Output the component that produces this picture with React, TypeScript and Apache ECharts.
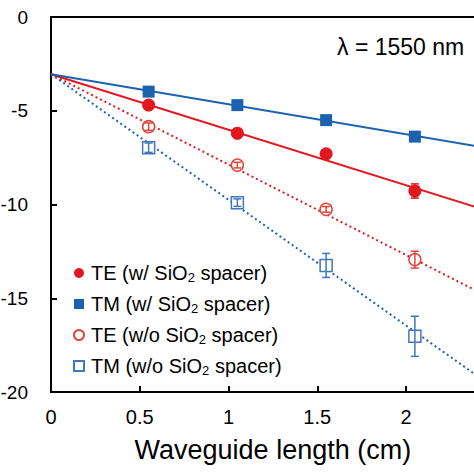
import React, { useEffect, useRef } from "react";
import * as echarts from "echarts";

// Waveguide lengths (cm)
const lengths = [0.55, 1.05, 1.55, 2.05];

// Measured loss values (dB)
const teWith = [-4.7, -6.2, -7.3, -9.28];
const tmWith = [-3.98, -4.7, -5.5, -6.38];
const teWithout = [-5.85, -7.9, -10.26, -12.94];
const tmWithout = [-6.97, -9.9, -13.25, -17.03];

// Error bar half-widths (dB)
const teWithErr = [0.1, 0.1, 0.15, 0.38];
const tmWithErr = [0.1, 0.1, 0.1, 0.12];
const teWithoutErr = [0.2, 0.15, 0.15, 0.45];
const tmWithoutErr = [0.25, 0.2, 0.64, 1.07];

// Linear fit end points
const fitX = [0, 2.5];
const teWithFit = [-3.05, -10.45];
const tmWithFit = [-3.05, -7.05];
const teWithoutFit = [-3.05, -15.1];
const tmWithoutFit = [-3.05, -19.8];

const seriesNames = [
  "TE (w/ SiO2 spacer)",
  "TM (w/ SiO2 spacer)",
  "TE (w/o SiO2 spacer)",
  "TM (w/o SiO2 spacer)",
];

const RED = "#e3171f";
const BLUE = "#1c62b0";
const RED_OPEN = "#e0463b";
const BLUE_OPEN = "#3f78c0";
const FONT = "'Liberation Sans', Arial, sans-serif";

const pairs = (xs: number[], ys: number[]) => xs.map((x, i) => [x, ys[i]]);
const triples = (xs: number[], ys: number[], es: number[]) =>
  xs.map((x, i) => [x, ys[i], es[i]]);

function errorSeries(data: number[][], color: string, z: number) {
  return {
    type: "custom",
    z,
    silent: true,
    data,
    encode: { x: 0, y: 1 },
    renderItem: (_params: any, api: any) => {
      const x = api.value(0);
      const y = api.value(1);
      const e = api.value(2);
      const top = api.coord([x, y + e]);
      const bot = api.coord([x, y - e]);
      const cw = 4;
      const style = { stroke: color, lineWidth: 1.5 };
      return {
        type: "group",
        children: [
          { type: "line", shape: { x1: top[0], y1: top[1], x2: bot[0], y2: bot[1] }, style },
          { type: "line", shape: { x1: top[0] - cw, y1: top[1], x2: top[0] + cw, y2: top[1] }, style },
          { type: "line", shape: { x1: bot[0] - cw, y1: bot[1], x2: bot[0] + cw, y2: bot[1] }, style },
        ],
      };
    },
  };
}

function fitSeries(ys: number[], color: string, dotted: boolean) {
  return {
    type: "line",
    data: pairs(fitX, ys),
    symbol: "none",
    silent: true,
    z: 1,
    lineStyle: { color, width: 2, type: dotted ? [2, 3] : "solid" },
  };
}

export default function App() {
  const ref = useRef<HTMLDivElement>(null);
  useEffect(() => {
    if (!ref.current) return;
    const chart = echarts.init(ref.current, null, { renderer: "svg" });
    const sub = (name: string) => {
      const [a, b] = name.split("SiO2");
      return `{f|${a}SiO}{s|2}{a|${b}}`;
    };
    chart.setOption({
      animation: false,
      backgroundColor: "#ffffff",
      textStyle: { fontFamily: FONT },
      grid: {
        left: 51,
        top: 17,
        width: 443.75,
        height: 375,
        containLabel: false,
        outerBoundsMode: "none",
        show: true,
        borderColor: "#000",
        borderWidth: 2,
        backgroundColor: "transparent",
      },
      xAxis: {
        type: "value",
        min: 0,
        max: 2.5,
        interval: 0.5,
        name: "Waveguide length (cm)",
        nameLocation: "middle",
        nameGap: 44,
        nameTextStyle: { fontSize: 27, color: "#000", fontFamily: FONT },
        axisLine: { onZero: false, lineStyle: { color: "#000", width: 2 } },
        axisTick: { inside: true, length: 6, lineStyle: { color: "#000", width: 2 } },
        axisLabel: { fontSize: 20, color: "#000", margin: 15, fontFamily: FONT, showMaxLabel: false },
        splitLine: { show: false },
      },
      yAxis: {
        type: "value",
        min: -20,
        max: 0,
        interval: 5,
        axisLine: { onZero: false, lineStyle: { color: "#000", width: 2 } },
        axisTick: { inside: true, length: 6, lineStyle: { color: "#000", width: 2 } },
        axisLabel: { fontSize: 19, color: "#000", margin: 23, fontFamily: FONT },
        splitLine: { show: false },
      },
      legend: {
        orient: "vertical",
        left: 68,
        top: 258,
        itemWidth: 10,
        itemHeight: 10,
        itemGap: 10,
        data: seriesNames,
        formatter: sub,
        textStyle: {
          fontFamily: FONT,
          color: "#000",
          rich: {
            f: { fontSize: 20, lineHeight: 22, color: "#000", fontFamily: FONT, padding: [0, 0, 0, 2] },
            a: { fontSize: 20, lineHeight: 22, color: "#000", fontFamily: FONT },
            s: { fontSize: 13, lineHeight: 13, verticalAlign: "bottom", color: "#000", fontFamily: FONT },
          },
        },
      },
      graphic: [
        {
          type: "text",
          left: 337,
          top: 35,
          style: { text: "λ = 1550 nm", fontSize: 23, fill: "#000", fontFamily: FONT },
        },
      ],
      series: [
        fitSeries(teWithFit, RED, false),
        fitSeries(tmWithFit, BLUE, false),
        fitSeries(teWithoutFit, RED, true),
        fitSeries(tmWithoutFit, BLUE, true),
        errorSeries(triples(lengths, teWith, teWithErr), RED, 2),
        errorSeries(triples(lengths, tmWith, tmWithErr), BLUE, 2),
        {
          type: "scatter",
          name: seriesNames[0],
          data: pairs(lengths, teWith),
          symbol: "circle",
          symbolSize: 13,
          z: 3,
          itemStyle: { color: RED, opacity: 1 },
        },
        {
          type: "scatter",
          name: seriesNames[1],
          data: pairs(lengths, tmWith),
          symbol: "rect",
          symbolSize: 12,
          z: 3,
          itemStyle: { color: BLUE, opacity: 1 },
        },
        {
          type: "scatter",
          name: seriesNames[2],
          data: pairs(lengths, teWithout),
          symbol: "circle",
          symbolSize: 12,
          z: 3,
          itemStyle: { color: "#fff", borderColor: RED_OPEN, borderWidth: 1.5, opacity: 1 },
        },
        {
          type: "scatter",
          name: seriesNames[3],
          data: pairs(lengths, tmWithout),
          symbol: "rect",
          symbolSize: 12,
          z: 3,
          itemStyle: { color: "#fff", borderColor: BLUE_OPEN, borderWidth: 1.5, opacity: 1 },
        },
        errorSeries(triples(lengths, teWithout, teWithoutErr), RED_OPEN, 4),
        errorSeries(triples(lengths, tmWithout, tmWithoutErr), BLUE_OPEN, 4),
      ],
    });
    return () => chart.dispose();
  }, []);
  return (
    <div
      style={{
        position: "fixed",
        left: 0,
        top: 0,
        width: 474,
        height: 474,
        overflow: "hidden",
        background: "#fff",
      }}
    >
      <div ref={ref} style={{ width: 520, height: 474 }} />
    </div>
  );
}
